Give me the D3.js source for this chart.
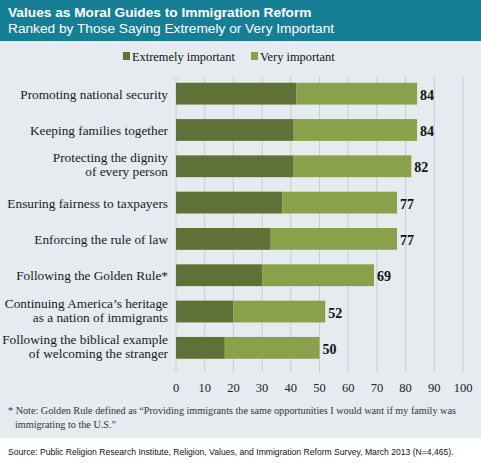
<!DOCTYPE html>
<html>
<head>
<meta charset="utf-8">
<script src="https://cdn.jsdelivr.net/npm/d3@7"></script>
<style>
  body { margin: 0; background: #fff; }
  svg { display: block; }
</style>
</head>
<body>
<script>
// values
var categories = [
  ['Promoting national security'],
  ['Keeping families together'],
  ['Protecting the dignity', 'of every person'],
  ['Ensuring fairness to taxpayers'],
  ['Enforcing the rule of law'],
  ['Following the Golden Rule*'],
  ['Continuing America\u2019s heritage', 'as a nation of immigrants'],
  ['Following the biblical example', 'of welcoming the stranger']
];
var extremely = [42, 41, 41, 37, 33, 30, 20, 17];
var very = [42, 43, 41, 40, 44, 39, 32, 33];
var totals = [84, 84, 82, 77, 77, 69, 52, 50];
var ticks = [0, 10, 20, 30, 40, 50, 60, 70, 80, 90, 100];
var seriesNames = ['Extremely important', 'Very important'];

var w = 481, h = 463;
var serif = '"Liberation Serif", "DejaVu Serif", serif';
var sans = '"Liberation Sans", Arial, sans-serif';
var colors = ['#5f7136', '#8aa14b'];

var svg = d3.select('body').append('svg')
  .attr('width', w)
  .attr('height', h);

// backgrounds
svg.append('rect').attr('width', w).attr('height', 438).attr('fill', '#e5ebef');
svg.append('rect').attr('width', w).attr('height', 41).attr('fill', '#167f95');

svg.append('text').attr('x', 8).attr('y', 17)
  .attr('font-family', sans).attr('font-weight', 'bold').attr('font-size', 13.7)
  .attr('fill', '#fff').text('Values as Moral Guides to Immigration Reform');
svg.append('text').attr('x', 8).attr('y', 32.5)
  .attr('font-family', sans).attr('font-size', 13.7)
  .attr('fill', '#fff').text('Ranked by Those Saying Extremely or Very Important');

var x = d3.scaleLinear().domain([0, 100]).range([176, 463]);
var y = d3.scaleBand().domain(d3.range(categories.length))
  .range([75.5, 366]).paddingInner(0.4).paddingOuter(0.2);

// gridlines
svg.selectAll('line.grid').data(ticks).enter().append('line')
  .attr('class', 'grid')
  .attr('x1', function(d) { return x(d); })
  .attr('x2', function(d) { return x(d); })
  .attr('y1', 77).attr('y2', 372)
  .attr('stroke', '#c9cdd0').attr('stroke-width', 1);

// tick labels
svg.selectAll('text.tick').data(ticks).enter().append('text')
  .attr('class', 'tick')
  .attr('x', function(d) { return x(d); })
  .attr('y', 392)
  .attr('text-anchor', 'middle')
  .attr('font-family', serif).attr('font-size', 12.5)
  .attr('fill', '#222')
  .text(function(d) { return d; });

// stacked bars
var rows = svg.selectAll('g.row').data(categories).enter().append('g')
  .attr('class', 'row');

rows.append('rect')
  .attr('x', x(0))
  .attr('y', function(d, i) { return y(i); })
  .attr('width', function(d, i) { return x(extremely[i]) - x(0); })
  .attr('height', y.bandwidth())
  .attr('fill', colors[0]);

rows.append('rect')
  .attr('x', function(d, i) { return x(extremely[i]); })
  .attr('y', function(d, i) { return y(i); })
  .attr('width', function(d, i) { return x(extremely[i] + very[i]) - x(extremely[i]); })
  .attr('height', y.bandwidth())
  .attr('fill', colors[1]);

rows.append('text')
  .attr('x', function(d, i) { return x(extremely[i] + very[i]) + 3; })
  .attr('y', function(d, i) { return y(i) + y.bandwidth() / 2 + 6; })
  .attr('font-family', serif).attr('font-weight', 'bold').attr('font-size', 14)
  .attr('fill', '#111')
  .text(function(d, i) { return totals[i]; });

// category labels
rows.append('text')
  .attr('text-anchor', 'end')
  .attr('font-family', serif).attr('font-size', 13.3)
  .attr('fill', '#1a1a1a')
  .each(function(d, i) {
    var t = d3.select(this);
    var mid = y(i) + y.bandwidth() / 2;
    var start = mid + 5 - (d.length - 1) * 9;
    d.forEach(function(line, j) {
      t.append('tspan').attr('x', 168).attr('y', start + j * 14).text(line);
    });
  });

// legend
var legendX = [123, 251];
var legend = svg.selectAll('g.legend').data(seriesNames).enter().append('g')
  .attr('class', 'legend');
legend.append('rect')
  .attr('x', function(d, i) { return legendX[i]; })
  .attr('y', 52).attr('width', 7).attr('height', 8)
  .attr('fill', function(d, i) { return colors[i]; });
legend.append('text')
  .attr('x', function(d, i) { return legendX[i] + 9; })
  .attr('y', 61)
  .attr('font-family', serif).attr('font-size', 12.4)
  .attr('fill', '#111')
  .text(function(d) { return d; });

// footnote and source
svg.append('text').attr('x', 8).attr('y', 414)
  .attr('font-family', serif).attr('font-size', 10.2).attr('fill', '#333')
  .text('* Note: Golden Rule defined as \u201cProviding immigrants the same opportunities I would want if my family was');
svg.append('text').attr('x', 15).attr('y', 428)
  .attr('font-family', serif).attr('font-size', 10.2).attr('fill', '#333')
  .text('immigrating to the U.S.\u201d');
svg.append('text').attr('x', 8).attr('y', 455)
  .attr('font-family', sans).attr('font-size', 8.6).attr('fill', '#111')
  .text('Source: Public Religion Research Institute, Religion, Values, and Immigration Reform Survey, March 2013  (N=4,465).');
</script>
</body>
</html>
